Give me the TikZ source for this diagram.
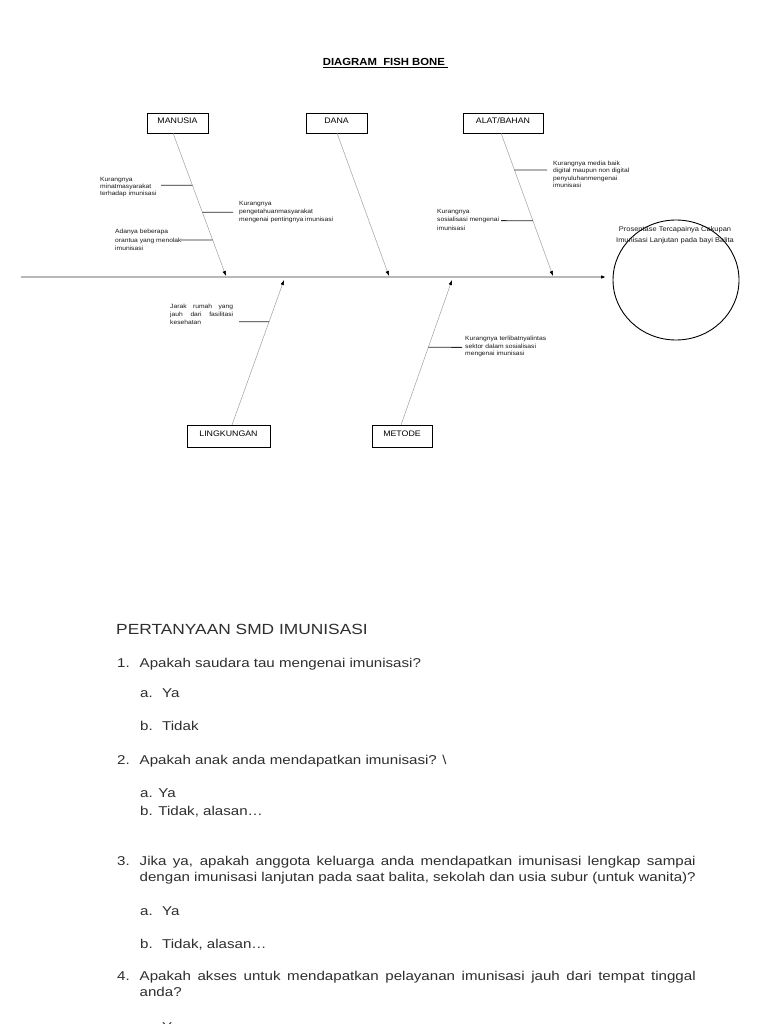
\documentclass[tikz,border=0pt]{standalone}
\usepackage{fontspec}
\setmainfont{Liberation Sans}
\newfontfamily\dfont[FakeStretch=1.1]{Liberation Sans}
\newfontfamily\qfont[FakeStretch=1.18]{Liberation Sans}
\usetikzlibrary{arrows.meta,calc,shapes.geometric}
\definecolor{bonegray}{HTML}{A0A0A0}
\definecolor{spinegray}{HTML}{B8B8B8}
\definecolor{qtext}{HTML}{2E2E2E}
\tikzset{
 catbox/.style={draw=black, line width=0.8pt, minimum height=20pt, inner sep=0pt, text height=6pt, text depth=4.5pt, font=\dfont\fontsize{8}{9}\selectfont},
 bone/.style={draw=bonegray, line width=0.5pt, -{Latex[color=black,length=5pt,width=3.6pt]}},
 spine/.style={draw=spinegray, line width=1.3pt, -{Latex[color=black,length=5pt,width=3.6pt]}},
 subbone/.style={draw=black!85, line width=0.9pt},
 cause/.style={inner sep=0pt, align=left, anchor=north west, text=black!90},
 qtxt/.style={inner sep=0pt, anchor=base west, text=qtext, font=\qfont\fontsize{12.8}{18}\selectfont},
}
\newcommand{\smallcause}[1]{\dfont\fontsize{6.1}{#1}\selectfont}
\begin{document}
\begin{tikzpicture}[x=1pt,y=-1pt]
\useasboundingbox (0,0) rectangle (768,1024);
\fill[white] (0,0) rectangle (768,1024);
\clip (0,0) rectangle (768,1024);

% title
\node[inner sep=0pt, font=\dfont\fontsize{10.3}{12}\selectfont\bfseries] (title) at (385.5,63) {\underline{DIAGRAM\ \ FISH BONE\ }};

% category boxes
\node[catbox, minimum width=61pt] (man) at (177.5,123) {MANUSIA};
\node[catbox, minimum width=61pt] (dana) at (336.5,123) {DANA};
\node[catbox, minimum width=80pt] (alat) at (503,123) {ALAT/BAHAN};
\node[catbox, minimum width=83pt, minimum height=22pt] (ling) at (228.5,436) {LINGKUNGAN};
\node[catbox, minimum width=60pt, minimum height=22pt] (met) at (402,436) {METODE};

% effect
\node[draw=black, line width=0.9pt, ellipse, minimum width=126pt, minimum height=120pt, inner sep=0pt] (eff) at (676,280) {};
\node[inner sep=0pt, align=center, text=black!90, font=\dfont\fontsize{6.8}{11}\selectfont] (efftxt) at (675,235.5) {Prosentase Tercapainya Cakupan\\Imunisasi Lanjutan pada bayi Balita};

% spine
\coordinate (sp0) at (21,277);
\coordinate (sp1) at (606,277);
\draw[spine] (sp0) -- (sp1);

% bones
\coordinate (manA) at (173,133);  \coordinate (manB) at (226,276);
\coordinate (danA) at (337,133);  \coordinate (danB) at (389,276);
\coordinate (alaA) at (501,133);  \coordinate (alaB) at (553,276);
\coordinate (linA) at (232,425);  \coordinate (linB) at (284,280);
\coordinate (metA) at (401,425);  \coordinate (metB) at (452,280);
\draw[bone] (manA) -- (manB);
\draw[bone] (danA) -- (danB);
\draw[bone] (alaA) -- (alaB);
\draw[bone] (linA) -- (linB);
\draw[bone] (metA) -- (metB);

% sub-bones
\coordinate (m1) at ($(manA)!0.3657!(manB)$); \coordinate (m1e) at (161,185.3);
\coordinate (m2) at ($(manA)!0.5545!(manB)$); \coordinate (m2e) at (233,212.3);
\coordinate (m3) at ($(manA)!0.7483!(manB)$); \coordinate (m3e) at (181,240);
\coordinate (a1) at ($(alaA)!0.2587!(alaB)$); \coordinate (a1e) at (547,170);
\coordinate (a2) at ($(alaA)!0.6133!(alaB)$); \coordinate (a2e) at (501,220.7);
\coordinate (l1) at ($(linA)!0.7124!(linB)$); \coordinate (l1e) at (239,321.7);
\coordinate (t1) at ($(metA)!0.5359!(metB)$); \coordinate (t1e) at (462,347.3);
\draw[subbone] (m1) -- (m1e);
\draw[subbone] (m2) -- (m2e);
\draw[subbone] (m3) -- (m3e);
\draw[subbone] (a1) -- (a1e);
\draw[subbone] (a2) -- (a2e);
\draw[subbone] (l1) -- (l1e);
\draw[subbone] (t1) -- (t1e);

% causes
\node[cause, font=\smallcause{7.1}] (c1) at (100,176.8) {Kurangnya\\minatmasyarakat\\terhadap imunisasi};
\node[cause, font=\smallcause{8.3}] (c2) at (239,200.9) {Kurangnya\\pengetahuanmasyarakat\\mengenai pentingnya imunisasi};
\node[cause, font=\smallcause{8.3}] (c3) at (115,229.3) {Adanya beberapa\\orantua yang menolak\\imunisasi};
\node[cause, font=\smallcause{7.3}] (c4) at (553,160.9) {Kurangnya media baik\\digital maupun non digital\\penyuluhanmengenai\\imunisasi};
\node[cause, font=\smallcause{8.3}] (c5) at (437,209.3) {Kurangnya\\sosialisasi mengenai\\imunisasi};
\node[cause, font=\smallcause{7.8}] (c6) at (170,304.3) {\makebox[63pt][s]{Jarak rumah yang}\\\makebox[63pt][s]{jauh dari fasilitasi}\\kesehatan};
\node[cause, font=\smallcause{7.5}] (c7) at (465,335.9) {Kurangnya terlibatnyalintas\\sektor dalam sosialisasi\\mengenai imunisasi};

% questionnaire
\node[qtxt, font=\qfont\fontsize{14.7}{18}\selectfont] (ptitle) at (116,634) {PERTANYAAN SMD IMUNISASI};

\node[qtxt] (q1n) at (117,667.3) {1.};
\node[qtxt] (q1t) at (139.5,667.3) {Apakah saudara tau mengenai imunisasi?};
\node[qtxt] (q1an) at (140,697) {a.};
\node[qtxt] (q1a) at (162,697) {Ya};
\node[qtxt] (q1bn) at (140,730) {b.};
\node[qtxt] (q1b) at (162,730) {Tidak};

\node[qtxt] (q2n) at (117,764.5) {2.};
\node[qtxt] (q2t) at (139.5,764.5) {Apakah anak anda mendapatkan imunisasi? \textbackslash};
\node[qtxt] (q2a) at (140,797.5) {a. Ya};
\node[qtxt] (q2b) at (140,815.5) {b. Tidak, alasan…};

\node[qtxt] (q3n) at (117,865) {3.};
\node[qtxt] (q3t1) at (139.5,865) {\makebox[556pt][s]{Jika ya, apakah anggota keluarga anda mendapatkan imunisasi lengkap sampai}};
\node[qtxt] (q3t2) at (139.5,881.7) {\makebox[556pt][s]{dengan imunisasi lanjutan pada saat balita, sekolah dan usia subur (untuk wanita)?}};
\node[qtxt] (q3an) at (140,915.7) {a.};
\node[qtxt] (q3a) at (162,915.7) {Ya};
\node[qtxt] (q3bn) at (140,948) {b.};
\node[qtxt] (q3b) at (162,948) {Tidak, alasan…};

\node[qtxt] (q4n) at (117,980) {4.};
\node[qtxt] (q4t1) at (139.5,980) {\makebox[556pt][s]{Apakah akses untuk mendapatkan pelayanan imunisasi jauh dari tempat tinggal}};
\node[qtxt] (q4t2) at (139.5,996.7) {anda?};
\node[qtxt] (q4an) at (140,1031) {a.};
\node[qtxt] (q4a) at (162,1031) {Ya};
\end{tikzpicture}
\end{document}
